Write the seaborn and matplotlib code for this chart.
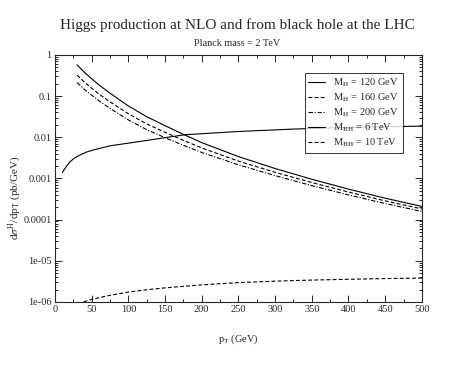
import matplotlib
matplotlib.use("Agg")
import matplotlib.pyplot as plt
import matplotlib.ticker as mticker
import numpy as np
import pandas as pd
import seaborn as sns

# Higgs NLO curves (pT in GeV, dsigma/dpT in pb/GeV)
pt_higgs = [30, 40, 50, 60, 75, 100, 125, 150, 175, 200, 250, 300, 350, 400, 450, 500]
mh120 = [0.575, 0.380, 0.263, 0.186, 0.1175, 0.0575, 0.0316, 0.0191, 0.01175, 0.00741,
         0.00339, 0.00174, 0.000955, 0.00055, 0.000331, 0.000209]
mh160 = [0.324, 0.219, 0.155, 0.112, 0.0724, 0.0372, 0.0211, 0.0132, 0.00841, 0.0055,
         0.00263, 0.00141, 0.000794, 0.000468, 0.000285, 0.000182]
mh200 = [0.214, 0.146, 0.105, 0.0767, 0.0501, 0.0263, 0.0153, 0.00977, 0.00638, 0.00427,
         0.00214, 0.00117, 0.000668, 0.000398, 0.000245, 0.000158]

# black hole curves
pt_bh6 = [10, 15, 20, 27, 34, 43, 52, 75, 98, 120, 157, 177, 250, 325, 400, 500]
bh6 = [0.00138, 0.0019, 0.0025, 0.00316, 0.0037, 0.00437, 0.0049, 0.0062, 0.0071, 0.0081,
       0.0102, 0.0115, 0.0138, 0.0158, 0.0174, 0.0186]
pt_bh10 = [24, 30, 40, 50, 60, 75, 100, 125, 150, 200, 250, 300, 350, 400, 450, 500]
bh10 = [0.75e-6, 0.86e-6, 1.02e-6, 1.15e-6, 1.27e-6, 1.45e-6, 1.74e-6, 1.98e-6, 2.2e-6,
        2.6e-6, 2.95e-6, 3.2e-6, 3.4e-6, 3.55e-6, 3.7e-6, 3.8e-6]

sns.set_style("ticks")
plt.rcParams["font.family"] = ["Liberation Serif", "DejaVu Serif"]
plt.rcParams["mathtext.fontset"] = "stix"
plt.rcParams["font.size"] = 7.5

fig = plt.figure(figsize=(4.74, 3.66), dpi=100)
ax = fig.add_axes([0.116, 0.175, 0.774, 0.675])

series = [
    (pt_higgs, mh120, r"M$_\mathrm{H}$ = 120 GeV", "-"),
    (pt_higgs, mh160, r"M$_\mathrm{H}$ = 160 GeV", (0, (3.5, 2))),
    (pt_higgs, mh200, r"M$_\mathrm{H}$ = 200 GeV", (0, (4, 1.5, 1, 1.5))),
    (pt_bh6, bh6, r"M$_\mathrm{BH}$ = 6 TeV", "-"),
    (pt_bh10, bh10, r"M$_\mathrm{BH}$ = 10 TeV", (0, (3.5, 2))),
]
for x, y, lab, ls in series:
    df = pd.DataFrame({"pt": x, "val": y})
    sns.lineplot(data=df, x="pt", y="val", ax=ax, color="black", lw=0.8,
                 linestyle=ls, label=lab)

ax.set_yscale("log")
ax.set_xlim(0, 500)
ax.set_ylim(1e-6, 1)
ax.xaxis.set_major_locator(mticker.MultipleLocator(50))
ax.xaxis.set_minor_locator(mticker.MultipleLocator(25))
ax.yaxis.set_major_locator(mticker.LogLocator(base=10, numticks=10))
ax.yaxis.set_minor_locator(mticker.LogLocator(base=10, subs=np.arange(2, 10), numticks=10))
ylabels = {1: "1", 0.1: "0.1", 0.01: "0.01", 0.001: "0.001", 1e-4: "0.0001",
           1e-5: "1e-05", 1e-6: "1e-06"}
ax.yaxis.set_major_formatter(mticker.FuncFormatter(
    lambda v, p: min(ylabels.items(), key=lambda kv: abs(np.log10(kv[0]) - np.log10(v)))[1]))
ax.tick_params(which="both", direction="in", top=True, right=True, labelsize=7.5,
               width=0.7, pad=2.5)
ax.tick_params(which="major", length=5)
ax.tick_params(which="minor", length=2.5)
for s in ax.spines.values():
    s.set_linewidth(0.8)

ax.set_xlabel(r"p$_\mathrm{T}$ (GeV)", fontsize=7.5, labelpad=13)
ax.set_ylabel(r"d$\sigma^\mathrm{H}$/dp$_\mathrm{T}$ (pb/GeV)", fontsize=8)
ax.yaxis.set_label_coords(-0.087, 0.42)

fig.text(0.5, 0.932, "Higgs production at NLO and from black hole at the LHC",
         ha="center", va="center", fontsize=11)
fig.text(0.5, 0.882, "Planck mass = 2 TeV", ha="center", va="center", fontsize=7.3)

leg = ax.legend(loc="upper right", bbox_to_anchor=(0.948, 0.927), fontsize=7.5,
                frameon=True, fancybox=False, handlelength=1.6, borderpad=0.35,
                labelspacing=0.25, handletextpad=0.8, borderaxespad=0)
leg.get_frame().set_edgecolor("black")
leg.get_frame().set_linewidth(0.7)

fig.savefig("out.png", dpi=100)
